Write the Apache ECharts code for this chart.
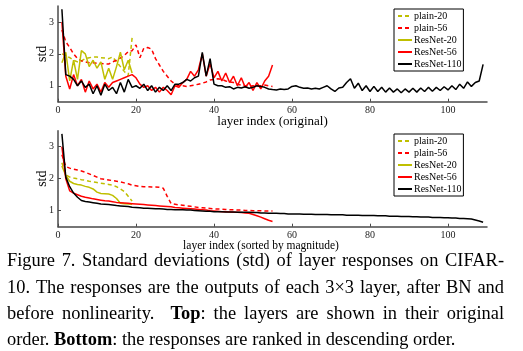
<!DOCTYPE html>
<html><head><meta charset="utf-8">
<script src="https://cdn.jsdelivr.net/npm/echarts@6/dist/echarts.min.js"></script>
<style>html,body{margin:0;padding:0;background:#fff}#c{width:523px;height:351px}</style>
</head><body><div id="c"></div>
<script>
// ---------- data ----------
const seriesNames = ['plain-20', 'plain-56', 'ResNet-20', 'ResNet-56', 'ResNet-110'];
const xTicks = [0, 20, 40, 60, 80, 100];
const yTicks = [1, 2, 3];

// Top: layers in original order
const plain20Orig = [2.0, 1.95, 1.88, 1.8, 1.75, 1.78, 1.85, 1.88, 1.9, 1.9, 1.88, 1.87, 1.85, 1.9, 1.75, 1.6, 1.45, 1.32, 2.5];
const plain56Orig = [2.75, 2.38, 2.2, 2.0, 1.85, 1.78, 1.75, 1.72, 1.72, 1.7,
  1.7, 1.68, 1.68, 1.75, 1.8, 1.87, 1.95, 2.07, 2.1, 2.28,
  1.88, 2.18, 2.2, 2.15, 1.85, 1.65, 1.45, 1.3, 1.15, 1.05,
  1.0, 1.0, 0.98, 1.0, 1.02, 1.05, 1.08, 1.12, 1.18, 1.2,
  1.22, 1.2, 1.15, 1.12, 1.1, 1.05, 1.02, 1.0, 0.98, 1.0,
  0.98, 1.0, 1.02, 1.0, 0.98];
const resnet20Orig = [1.72, 2.05, 1.15, 1.8, 1.2, 2.1, 2.0, 1.6, 1.8, 1.55, 1.75, 1.2, 1.55, 1.2, 1.6, 2.05, 1.5, 1.8, 1.4];
const resnet56Orig = [3.0, 1.3, 0.9, 1.35, 1.0, 1.2, 0.8, 1.15, 0.9, 1.05,
  0.8, 1.1, 0.95, 1.1, 1.15, 1.2, 1.25, 1.3, 1.35, 1.25,
  1.05, 0.95, 1.0, 0.85, 0.95, 0.8, 0.95, 0.85, 0.72, 1.0,
  0.95, 1.1, 1.2, 1.45, 1.3, 1.5, 2.0, 1.3, 1.7, 1.25,
  1.45, 1.15, 1.4, 1.1, 1.3, 1.0, 1.25, 0.95, 1.1, 0.85,
  1.1, 0.9, 1.15, 1.3, 1.65];
const resnet110Orig = [3.4, 1.35, 1.3, 1.2, 1.0, 1.15, 0.95, 1.05, 0.75, 1.0,
  0.7, 1.05, 0.85, 0.95, 0.75, 1.1, 0.8, 1.2, 0.95, 1.0,
  0.92, 1.05, 0.85, 1.0, 0.8, 0.95, 0.85, 1.0, 0.85, 1.05,
  1.05, 1.1, 1.2, 1.15, 1.25, 1.3, 2.05, 1.3, 1.85, 1.05,
  1.0, 1.0, 0.95, 0.97, 0.9, 0.95, 0.93, 0.97, 0.92, 0.95,
  1.0, 0.98, 0.95, 0.9, 0.88, 0.87, 0.9, 0.88, 0.9, 0.98,
  1.0, 0.95, 0.92, 0.93, 0.9, 0.92, 0.9, 0.95, 1.0, 0.9,
  0.82, 0.93, 0.95, 1.1, 1.22, 0.92, 1.08, 0.85, 1.0, 0.82,
  0.98, 0.82, 0.95, 0.8, 0.93, 0.8, 0.9, 0.78, 0.9, 0.8,
  0.92, 0.8, 0.93, 0.82, 0.95, 0.83, 0.95, 0.85, 0.97, 0.87,
  1.0, 0.88, 1.05, 0.92, 1.12, 0.98, 1.1, 1.15, 1.67];

// Bottom: sorted by magnitude
const plain20Sorted = [2.5, 2.12, 2.05, 2.02, 2.0, 1.97, 1.95, 1.92, 1.9, 1.88, 1.86, 1.84, 1.82, 1.8, 1.75, 1.68, 1.6, 1.45, 1.3];
const plain56Sorted = [2.75, 2.38, 2.33, 2.3, 2.27, 2.24, 2.2, 2.15, 2.1, 2.05,
  2.0, 1.98, 1.96, 1.94, 1.92, 1.9, 1.87, 1.84, 1.8, 1.78,
  1.76, 1.75, 1.75, 1.74, 1.74, 1.73, 1.7, 1.45, 1.22, 1.2,
  1.18, 1.17, 1.15, 1.14, 1.12, 1.1, 1.09, 1.08, 1.07, 1.06,
  1.05, 1.05, 1.04, 1.03, 1.03, 1.02, 1.02, 1.01, 1.01, 1.0,
  1.0, 1.0, 0.99, 0.99, 0.99];
const resnet20Sorted = [2.4, 2.1, 1.92, 1.85, 1.82, 1.8, 1.76, 1.73, 1.68, 1.58, 1.54, 1.53, 1.52, 1.48, 1.38, 1.23, 1.22, 1.21, 1.2];
const resnet56Sorted = [3.0, 2.0, 1.62, 1.55, 1.5, 1.45, 1.42, 1.4, 1.37, 1.35,
  1.33, 1.31, 1.3, 1.28, 1.26, 1.25, 1.24, 1.23, 1.22, 1.21,
  1.2, 1.19, 1.18, 1.17, 1.16, 1.15, 1.14, 1.13, 1.12, 1.1,
  1.09, 1.08, 1.07, 1.06, 1.05, 1.04, 1.03, 1.02, 1.0, 0.99,
  0.98, 0.97, 0.97, 0.96, 0.95, 0.95, 0.94, 0.93, 0.92, 0.88,
  0.84, 0.8, 0.75, 0.7, 0.66];
const resnet110Sorted = [3.4, 2.05, 1.75, 1.55, 1.42, 1.32, 1.29, 1.27, 1.25, 1.23,
  1.21, 1.2, 1.19, 1.18, 1.16, 1.15, 1.14, 1.13, 1.11, 1.1,
  1.09, 1.08, 1.08, 1.07, 1.06, 1.06, 1.05, 1.04, 1.04, 1.03,
  1.03, 1.03, 1.02, 1.02, 1.01, 1.0, 0.99, 0.98, 0.98, 0.97,
  0.97, 0.97, 0.96, 0.96, 0.96, 0.95, 0.95, 0.95, 0.95, 0.94,
  0.94, 0.93, 0.93, 0.92, 0.92, 0.92, 0.91, 0.91, 0.9, 0.9,
  0.9, 0.9, 0.89, 0.89, 0.89, 0.88, 0.88, 0.88, 0.88, 0.87,
  0.87, 0.87, 0.87, 0.86, 0.86, 0.86, 0.86, 0.85, 0.85, 0.85,
  0.85, 0.84, 0.84, 0.84, 0.83, 0.83, 0.83, 0.82, 0.82, 0.82,
  0.81, 0.81, 0.8, 0.8, 0.8, 0.79, 0.79, 0.79, 0.78, 0.78,
  0.77, 0.77, 0.76, 0.76, 0.75, 0.74, 0.71, 0.68, 0.64];

const xNameTop = 'layer index (original)';
const xNameBottom = 'layer index (sorted by magnitude)';
const yName = 'std';
const captionLines = [
  'Figure 7. Standard deviations (std) of layer responses on CIFAR-',
  '10. The responses are the outputs of each 3×3 layer, after BN and',
  'before nonlinearity.  **Top**: the layers are shown in their original',
  'order. **Bottom**: the responses are ranked in descending order.'
];

// ---------- styles ----------
const SERIF = '"Liberation Serif", "Times New Roman", serif';
const YEL = '#bfbf00', RED = '#ff0000', BLK = '#000000';
const styleOf = {
  'plain-20': { color: YEL, dash: true },
  'plain-56': { color: RED, dash: true },
  'ResNet-20': { color: YEL, dash: false },
  'ResNet-56': { color: RED, dash: false },
  'ResNet-110': { color: BLK, dash: false }
};
const topData = [plain20Orig, plain56Orig, resnet20Orig, resnet56Orig, resnet110Orig];
const botData = [plain20Sorted, plain56Sorted, resnet20Sorted, resnet56Sorted, resnet110Sorted];

function toPairs(arr) { return arr.map((v, i) => [i + 1, v]); }
function mkSeries(dataSets, idx) {
  return seriesNames.map((n, k) => ({
    name: n, type: 'line', xAxisIndex: idx, yAxisIndex: idx,
    data: toPairs(dataSets[k]), symbol: 'none', showSymbol: false,
    lineStyle: { color: styleOf[n].color, width: 1.5, type: styleOf[n].dash ? [4, 3] : 'solid' },
    itemStyle: { color: styleOf[n].color },
    animation: false, silent: true
  }));
}

const AX = '#4a4a4a';
function mkX(idx, name, nameStyleExtra) {
  return {
    gridIndex: idx, type: 'value', min: 0, max: 110,
    axisLine: { onZero: false, lineStyle: { color: AX, width: 1.5 } },
    axisTick: { inside: true, length: 3, customValues: xTicks, lineStyle: { color: AX, width: 1 } },
    axisLabel: { customValues: xTicks, fontFamily: SERIF, fontSize: 10, color: '#222', margin: 4 },
    splitLine: { show: false },
    name: name, nameLocation: 'middle', nameGap: 13, nameMoveOverlap: false,
    nameTextStyle: Object.assign({ fontFamily: SERIF, color: '#000' }, nameStyleExtra)
  };
}
function mkY(idx) {
  return {
    gridIndex: idx, type: 'value', min: 0.5, max: 3.5,
    axisLine: { show: true, onZero: false, lineStyle: { color: AX, width: 1.5 } },
    axisTick: { show: true, inside: true, length: 3, customValues: yTicks, lineStyle: { color: AX, width: 1 } },
    axisLabel: { customValues: yTicks, fontFamily: SERIF, fontSize: 10, color: '#222', margin: 4 },
    splitLine: { show: false },
    name: yName, nameLocation: 'middle', nameGap: 9, nameMoveOverlap: false,
    nameTextStyle: { fontFamily: SERIF, fontSize: 14, color: '#000' }
  };
}
function mkLegend(top) {
  return {
    orient: 'vertical', left: 394, top: top, data: seriesNames,
    itemWidth: 14, itemHeight: 10, itemGap: 2,
    borderColor: '#000', borderWidth: 1, padding: [2, 2, 2, 3],
    backgroundColor: '#fff', selectedMode: false,
    itemStyle: { opacity: 0 },
    textStyle: { fontFamily: SERIF, fontSize: 10, color: '#000', padding: [0, 0, 0, -3] }
  };
}

// ---------- caption (justified, measured) ----------
const FS = 18.4, CAP_LEFT = 7, CAP_RIGHT = 504;
const capY = [261, 287.8, 314.5, 340.5];
const mctx = document.createElement('canvas').getContext('2d');
function tw(t, b) { mctx.font = (b ? 'bold ' : '') + FS + 'px ' + SERIF; return mctx.measureText(t).width; }
function runsOf(word) {
  const out = []; word.split('**').forEach((p, i) => { if (p) out.push({ t: p, b: i % 2 === 1 }); }); return out;
}
const graphics = [];
captionLines.forEach((line, li) => {
  const tokens = line.split(' ');
  const words = [], gaps = []; let pending = 0;
  tokens.forEach(tk => {
    if (tk === '') { pending++; return; }
    if (words.length) gaps.push(1 + pending);
    pending = 0; words.push(runsOf(tk));
  });
  const widths = words.map(rs => rs.reduce((s, r) => s + tw(r.t, r.b), 0));
  const total = widths.reduce((a, b) => a + b, 0);
  const gw = gaps.reduce((a, b) => a + b, 0);
  const justify = li < captionLines.length - 1;
  const unit = justify ? (CAP_RIGHT - CAP_LEFT - total) / gw : tw(' ', false);
  let x = CAP_LEFT;
  words.forEach((rs, i) => {
    rs.forEach(r => {
      graphics.push({
        type: 'text', x: x, y: capY[li], silent: true,
        style: { text: r.t, fontSize: FS, fontFamily: SERIF, fontWeight: r.b ? 'bold' : 'normal', fill: '#000', verticalAlign: 'middle', align: 'left' }
      });
      x += tw(r.t, r.b);
    });
    if (i < gaps.length) x += unit * gaps[i];
  });
});

const chart = echarts.init(document.getElementById('c'), null, { renderer: 'canvas' });
chart.setOption({
  animation: false,
  backgroundColor: '#fff',
  grid: [
    { left: 58, top: 6, width: 429, height: 95.7 },
    { left: 58, top: 130.7, width: 429, height: 96 }
  ],
  xAxis: [mkX(0, xNameTop, { fontSize: 13 }), mkX(1, xNameBottom, { fontSize: 11.5, padding: [0, 23, 0, 0] })],
  yAxis: [mkY(0), mkY(1)],
  legend: [mkLegend(9), mkLegend(134)],
  series: mkSeries(topData, 0).concat(mkSeries(botData, 1)),
  graphic: graphics
});
</script></body></html>
